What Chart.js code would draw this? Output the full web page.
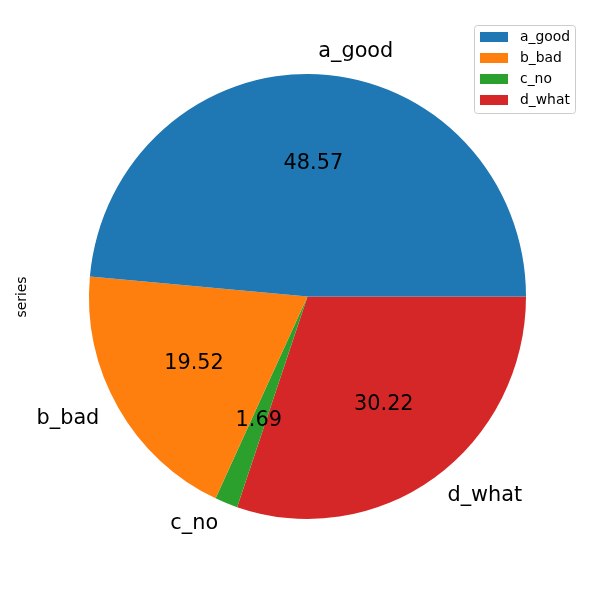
<!DOCTYPE html>
<html lang="en">
  <head>
    <meta charset="UTF-8" />
    <title>series pie</title>
    <script src="https://cdn.jsdelivr.net/npm/chart.js@4.4.0/dist/chart.umd.min.js"></script>
    <style>
      html, body { margin: 0; padding: 0; background: #fff; }
      #wrap { width: 600px; height: 594px; position: relative; }
    </style>
  </head>
  <body>
    <div id="wrap"><canvas id="myChart" width="600" height="594"></canvas></div>

    <script>
      // values (percent)
      const categories = ['a_good', 'b_bad', 'c_no', 'd_what'];
      const values = [48.57, 19.52, 1.69, 30.22];
      const colors = ['#1f77b4', '#ff7f0e', '#2ca02c', '#d62728'];
      const axisLabel = 'series';

      const FONT = '"DejaVu Sans", sans-serif';
      // the original pie is a touch taller than wide
      const STRETCH_Y = 222.5 / 218.5;

      // matplotlib goes counter-clockwise from 3 o'clock, chart.js clockwise,
      // so feed the slices in reverse order
      const drawLabels = categories.slice().reverse();
      const drawValues = values.slice().reverse();
      const drawColors = colors.slice().reverse();

      const pieText = {
        id: 'pieText',
        beforeDatasetsDraw(chart) {
          const arc = chart.getDatasetMeta(0).data[0];
          const ctx = chart.ctx;
          ctx.save();
          ctx.translate(arc.x, arc.y);
          ctx.scale(1, STRETCH_Y);
          ctx.translate(-arc.x, -arc.y);
        },
        afterDatasetsDraw(chart) {
          const ctx = chart.ctx;
          ctx.restore();
          const meta = chart.getDatasetMeta(0);
          ctx.save();
          ctx.fillStyle = '#000';
          ctx.font = '20.8px ' + FONT;
          ctx.textBaseline = 'middle';
          meta.data.forEach((arc, i) => {
            const mid = (arc.startAngle + arc.endAngle) / 2;
            const rx = arc.outerRadius;
            const ry = arc.outerRadius * STRETCH_Y;
            // percentage inside
            const px = arc.x + Math.cos(mid) * rx * 0.6;
            const py = arc.y + Math.sin(mid) * ry * 0.6;
            ctx.textAlign = 'center';
            ctx.fillText(drawValues[i].toFixed(2), px, py);
            // category outside
            const lx = arc.x + Math.cos(mid) * rx * 1.1;
            const ly = arc.y + Math.sin(mid) * ry * 1.1;
            ctx.textAlign = lx > arc.x ? 'left' : 'right';
            ctx.fillText(drawLabels[i], lx, ly);
          });

          // y label
          ctx.save();
          ctx.font = '13.9px ' + FONT;
          ctx.textAlign = 'center';
          ctx.textBaseline = 'middle';
          ctx.translate(22, 297);
          ctx.rotate(-Math.PI / 2);
          ctx.fillText(axisLabel, 0, 0);
          ctx.restore();

          // legend box like matplotlib
          const bx = 474.5, by = 25.5, bw = 101, bh = 88;
          ctx.beginPath();
          ctx.roundRect(bx, by, bw, bh, 3);
          ctx.fillStyle = 'rgba(255,255,255,0.8)';
          ctx.fill();
          ctx.strokeStyle = '#cccccc';
          ctx.lineWidth = 1;
          ctx.stroke();
          ctx.font = '13.9px ' + FONT;
          ctx.textAlign = 'left';
          ctx.textBaseline = 'middle';
          categories.forEach((c, i) => {
            const cy = 37 + i * 21;
            ctx.fillStyle = colors[i];
            ctx.fillRect(480, cy - 5, 28, 10);
            ctx.fillStyle = '#000';
            ctx.fillText(c, 520, cy);
          });
          ctx.restore();
        }
      };

      const ctx = document.getElementById('myChart').getContext('2d');
      const myChart = new Chart(ctx, {
        type: 'pie',
        data: {
          labels: drawLabels,
          datasets: [
            {
              data: drawValues,
              backgroundColor: drawColors,
              borderWidth: 0
            }
          ]
        },
        options: {
          responsive: false,
          animation: false,
          rotation: 90,
          layout: { padding: { left: 89, right: 74, top: 78, bottom: 79 } },
          plugins: {
            legend: { display: false },
            tooltip: { enabled: false }
          }
        },
        plugins: [pieText]
      });
    </script>
  </body>
</html>
